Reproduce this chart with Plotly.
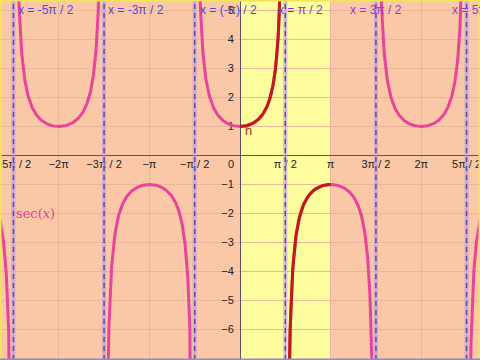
import numpy as np
import plotly.graph_objects as go

PI = np.pi
# axis window (data units)
x_range = [-8.32, 8.32]
y_range = [-7.05, 5.36]

# asymptotes and their labels
asym_x = [-5*PI/2, -3*PI/2, -PI/2, PI/2, 3*PI/2, 5*PI/2]
asym_labels = ["x = -5π / 2", "x = -3π / 2", "x = (-π) / 2", "x = π / 2", "x = 3π / 2", "x = 5π / 2"]
asym_label_x = [-7.77, -4.65, -1.46, 1.25, 3.73, 7.28]
asym_label_colors = ["#4a4ae0", "#4a4ae0", "#4a4ae0", "#5a48dc", "#8a40d4", "#8a40d4"]

# x ticks
x_tickvals = [-5*PI/2, -2*PI, -3*PI/2, -PI, -PI/2, PI/2, PI, 3*PI/2, 2*PI, 5*PI/2]
x_ticktext = ["−5π / 2", "−2π", "−3π / 2", "−π", "−π / 2", "π / 2", "π", "3π / 2", "2π", "5π / 2"]
y_tickvals = [-6, -5, -4, -3, -2, -1, 1, 2, 3, 4, 5]
y_ticktext = ["−6", "−5", "−4", "−3", "−2", "−1", "1", "2", "3", "4", "5"]

# highlighted interval
hl_start, hl_end = 0.0, PI

def sec_segments(a, b):
    xs, ys = [], []
    edges = [a] + [e for e in asym_x + [-7*PI/2, 7*PI/2] if a < e < b] + [b]
    edges = sorted(set(edges))
    for lo, hi in zip(edges[:-1], edges[1:]):
        t = np.linspace(lo + 1e-3, hi - 1e-3, 400)
        xs.extend(t.tolist()); ys.extend((1/np.cos(t)).tolist())
        xs.append(None); ys.append(None)
    return xs, ys

fig = go.Figure()
bx, by = sec_segments(x_range[0], x_range[1])
fig.add_trace(go.Scatter(x=bx, y=by, mode="lines", line=dict(color="#e8449c", width=3),
                         hoverinfo="skip", showlegend=False))
rx, ry = sec_segments(hl_start, hl_end)
rx = [hl_start + 1e-4] + rx
ry = [1.0] + ry
fig.add_trace(go.Scatter(x=rx, y=ry, mode="lines", line=dict(color="#c01a1a", width=3),
                         hoverinfo="skip", showlegend=False))

shapes = [dict(type="rect", xref="x", yref="paper", x0=hl_start, x1=hl_end, y0=0, y1=1,
               fillcolor="#fdfd9e", line=dict(width=0), layer="below")]
for ax in asym_x:
    shapes.append(dict(type="line", xref="x", yref="paper", x0=ax, x1=ax, y0=0, y1=1,
                       line=dict(color="rgba(190,150,230,0.6)", width=4), layer="above"))
    shapes.append(dict(type="line", xref="x", yref="paper", x0=ax, x1=ax, y0=0, y1=1,
                       line=dict(color="#5050b0", width=1.5, dash="5px,4px"), layer="above"))
# frame
shapes += [
    dict(type="line", xref="paper", yref="paper", x0=0, x1=1, y0=1, y1=1, line=dict(color="#f2e45a", width=3)),
    dict(type="line", xref="paper", yref="paper", x0=0, x1=0, y0=0, y1=1, line=dict(color="#f2e45a", width=3)),
    dict(type="line", xref="paper", yref="paper", x0=1, x1=1, y0=0, y1=1, line=dict(color="#f2e45a", width=3)),
    dict(type="line", xref="paper", yref="paper", x0=0, x1=1, y0=0, y1=0, line=dict(color="#9a88b8", width=3)),
]

annotations = []
for lx, txt, col in zip(asym_label_x, asym_labels, asym_label_colors):
    annotations.append(dict(x=lx, y=1, xref="x", yref="paper", yanchor="top", xanchor="left",
                            yshift=-1, text=txt, showarrow=False,
                            font=dict(family="Liberation Sans, Arial", size=12, color=col)))
annotations.append(dict(x=0, y=0, xref="x", yref="y", xanchor="right", yanchor="top",
                        xshift=-4, yshift=-1, text="0", showarrow=False,
                        font=dict(family="Liberation Sans, Arial", size=11, color="#222")))
annotations.append(dict(x=0, y=1, xref="x", yref="y", xanchor="left", yanchor="middle",
                        xshift=3, yshift=-4, text="h", showarrow=False,
                        font=dict(family="Liberation Sans, Arial", size=13, color="#a8382c")))
annotations.append(dict(x=x_range[0], y=-2.0, xref="x", yref="y", xanchor="left", yanchor="middle",
                        xshift=14, text="sec(<i>x</i>)", showarrow=False,
                        font=dict(family="DejaVu Serif", size=13, color="#e0409c")))

ypos = (0 - y_range[0]) / (y_range[1] - y_range[0])
xpos = (0 - x_range[0]) / (x_range[1] - x_range[0])

fig.update_layout(
    width=480, height=360, margin=dict(l=0, r=0, t=0, b=0, autoexpand=False),
    paper_bgcolor="#fac8a6", plot_bgcolor="#fac8a6",
    shapes=shapes, annotations=annotations,
    xaxis=dict(range=x_range, tickvals=x_tickvals, ticktext=x_ticktext, anchor="free", position=ypos,
               showgrid=True, gridcolor="#ebb79c", gridwidth=1, automargin=False,
               zeroline=False, showline=True, linecolor="#5a5060", linewidth=1,
               ticks="", ticklabelstandoff=-2, ticklabeloverflow="allow",
               tickfont=dict(family="Liberation Sans, Arial", size=11, color="#222"), layer="below traces"),
    yaxis=dict(range=y_range, tickvals=y_tickvals, ticktext=y_ticktext, anchor="free", position=xpos,
               showgrid=True, gridcolor="#ebb79c", gridwidth=1, automargin=False,
               zeroline=False, showline=True, linecolor="#5a5060", linewidth=1,
               ticks="", ticklabelstandoff=4, ticklabeloverflow="allow",
               tickfont=dict(family="Liberation Sans, Arial", size=11, color="#222"), layer="below traces"),
)
# vertical gridlines at every π/2
fig.update_xaxes(minor=dict(tickvals=[k*PI/2 for k in range(-5, 6)], showgrid=True, gridcolor="#ebb79c"))

fig.write_html("out.html")
